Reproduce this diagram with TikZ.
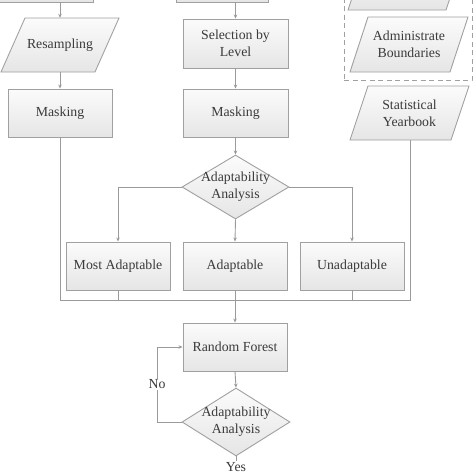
\documentclass[tikz,border=0pt]{standalone}
\usepackage{fontspec}
\setmainfont{Liberation Serif}
\usetikzlibrary{shapes.geometric,arrows.meta}
\definecolor{edgec}{HTML}{A0A0A0}
\definecolor{linec}{HTML}{9A9A9A}
\definecolor{txtc}{HTML}{3A3A3A}
\tikzset{
  x=1pt,y=-1pt,
  boxshade/.style={draw=edgec,line width=0.9pt,top color=gray!3,bottom color=gray!20},
  procbox/.style={boxshade,rectangle,minimum width=104pt,minimum height=48pt,inner sep=0pt,
    text=txtc,font=\fontsize{13.8}{17}\selectfont,align=center},
  decbox/.style={boxshade,diamond,inner sep=0pt},
  lbl/.style={text=txtc,font=\fontsize{13.8}{17}\selectfont,align=center,inner sep=1pt},
  conn/.style={draw=linec,line width=0.9pt},
  arr/.style={conn,-{Stealth[length=4pt,width=3.5pt]}},
  grpbox/.style={draw=edgec,line width=0.9pt,dashed,dash pattern=on 5pt off 3.5pt,rectangle,inner sep=0pt},
}
% \paragram{name}{cx}{cy}{overall width}{height}{slant}{text}
\newcommand\paragram[7]{%
  \path[boxshade] ({#2-#4/2},{#3+#5/2}) -- ({#2+#4/2-#6},{#3+#5/2})
     -- ({#2+#4/2},{#3-#5/2}) -- ({#2-#4/2+#6},{#3-#5/2}) -- cycle;
  \node[lbl,inner sep=0pt,minimum width=#4,minimum height=#5] (#1) at (#2,#3) {#7};}
\begin{document}
\begin{tikzpicture}
\useasboundingbox[fill=white] (0,0) rectangle (474,474);
% dashed group
\node[grpbox,minimum width=128pt,minimum height=130pt] (grp) at (408,15) {};
% top partial boxes
\node[procbox,minimum width=98pt,minimum height=24pt] (topL) at (44,-10) {};
\node[procbox,minimum width=92pt,minimum height=24pt] (topM) at (222,-10) {};
\paragram{topR}{406}{-17}{116}{54}{18}{}
% left column
\paragram{res}{60}{45}{118}{54}{24}{Resampling}
\node[procbox] (maskL) at (60,113) {Masking};
% middle column
\node[procbox,minimum width=105pt,minimum height=49pt] (sel) at (235.5,43.5) {Selection by\\Level};
\node[procbox,minimum width=105pt] (maskM) at (235.5,113) {Masking};
\node[decbox,minimum width=107pt,minimum height=64pt] (dia1) at (235.5,187) {};
\node[lbl] at (dia1) {Adaptability\\Analysis};
% right column
\paragram{admin}{409}{44.5}{118}{55}{18}{Administrate\\Boundaries}
\paragram{stat}{409.5}{113}{119}{54}{18}{Statistical\\Yearbook}
% classes
\node[procbox] (most) at (118,266) {Most Adaptable};
\node[procbox] (adapt) at (235,266) {Adaptable};
\node[procbox] (unad) at (352,266) {Unadaptable};
% lower
\node[procbox] (rf) at (235,347) {Random Forest};
\node[decbox,minimum width=108pt,minimum height=68pt] (dia2) at (236,422) {};
\node[lbl] at (dia2) {Adaptability\\Analysis};
\node[lbl] (yes) at (236,467) {Yes};
% bus coordinates
\coordinate (busL) at (60,300);
\coordinate (busR) at (410,300);
\coordinate (loop) at (157,422);
% connectors
\draw[arr] (res.north |- topL.south) -- (res.north);
\draw[arr] (sel.north |- topM.south) -- (sel.north);
\draw[arr] (res.south) -- (maskL.north);
\draw[arr] (sel.south) -- (maskM.north);
\draw[arr] (maskM.south) -- (dia1.north);
\draw[arr] (dia1.west) -| (most.north);
\draw[arr] (dia1.east) -| (unad.north);
\draw[arr] (dia1.south) -- (adapt.north);
\draw[conn] (maskL.south) -- (busL) -- (busR) -- (busR |- stat.south);
\draw[conn] (most.south) -- (most.south |- busL);
\draw[conn] (unad.south) -- (unad.south |- busL);
\draw[arr] (adapt.south) -- (rf.north);
\draw[arr] (rf.south) -- (dia2.north);
\draw[arr] (dia2.west) -- (loop) |- node[pos=0.25,fill=white,lbl] {No} (rf.west);
\draw[conn] (dia2.south) -- (yes.north);
\end{tikzpicture}
\end{document}
